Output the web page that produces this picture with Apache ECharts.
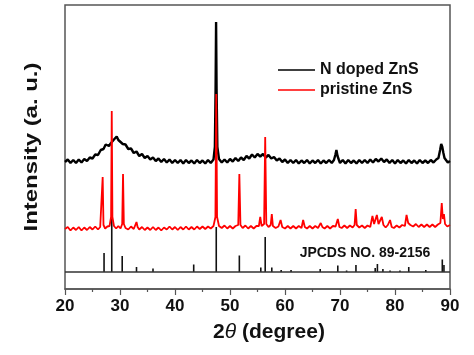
<!DOCTYPE html>
<html>
<head>
<meta charset="utf-8">
<script src="https://cdn.jsdelivr.net/npm/echarts@6/dist/echarts.min.js"></script>
<style>
html,body{margin:0;padding:0;background:#fff;}
#c{width:474px;height:355px;}
</style>
</head>
<body>
<div id="c"></div>
<script>
// x-axis ticks (2θ, degree)
var xTicks = [20, 30, 40, 50, 60, 70, 80, 90];

// N doped ZnS (offset trace), [2θ, intensity a.u.]
var nDoped = [
[20,127],[20.5,129.5],[21,126],[21.5,129],[22,126],[22.5,129.5],[23,126.5],[23.5,130],[24,128],[24.5,131.5],
[25,130.5],[25.5,134.5],[26,134],[26.5,139],[27,140],[27.4,144.5],[27.7,146],[28,143],[28.3,145.5],[28.6,144],
[28.9,149.5],[29.2,150],[29.4,152.5],[29.7,149],[30,150],[30.5,145],[31,144.5],[31.5,140],[32,140.5],[32.5,136],
[33,137.5],[33.5,133],[34,135],[34.5,131],[35,133],[35.5,129.5],[36,131.5],[36.5,128],[37,130.5],[37.5,127],
[38,130],[38.5,126.5],[39,129.5],[39.5,126],[40,129],[40.5,126],[41,129],[41.5,125.5],[42,129],[42.5,126],
[43,128.5],[43.5,125.5],[44,129],[44.5,126],[45,128.5],[45.5,125.5],[46,129],[46.5,126],[47,129.5],[47.25,142],
[47.38,200],[47.47,267],[47.56,200],[47.7,142],[48,130],[48.5,126.5],[49,129.5],[49.5,126.5],[50,130],[50.5,127.5],
[51,131],[51.5,128],[52,131.5],[52.5,129],[53,133],[53.5,130.5],[54,134.5],[54.5,131.5],[55,135],[55.5,132.5],
[56,135],[56.5,131.5],[57,134],[57.5,130.5],[58,132],[58.5,128.5],[59,130.5],[59.5,127],[60,129.5],[60.5,126],
[61,129],[61.5,126],[62,129],[62.5,125.5],[63,128.5],[63.5,126],[64,129],[64.5,125.5],[65,128.5],[65.5,126],
[66,129],[66.5,125.5],[67,128.5],[67.5,126],[68,129],[68.5,126],[68.9,129],[69.15,134],[69.35,139],[69.55,133],
[69.8,129],[70,126],[70.5,129],[71,125.5],[71.5,129],[72,126],[72.5,128.5],[73,125.5],[73.5,129],[74,126],
[74.5,129],[75,126],[75.5,129.5],[76,126.5],[76.5,130],[77,127.5],[77.5,130.5],[78,127],[78.5,129.5],[79,126],
[79.5,129],[80,125.5],[80.5,129],[81,126],[81.5,128.5],[82,125.5],[82.5,129],[83,126],[83.5,128.5],[84,125.5],
[84.5,129],[85,126],[85.5,128.5],[86,126],[86.5,129],[87,126.5],[87.5,129.5],[87.9,131],[88.2,139],[88.4,145],
[88.6,142],[88.8,136],[89,131],[89.3,129],[89.6,126.5],[90,128]
];

// pristine ZnS (offset trace), [2θ, intensity a.u.]
var pristine = [
[20,60],[20.5,62],[21,58.5],[21.5,61.5],[22,59],[22.5,62],[23,58.5],[23.5,61.5],[24,59],[24.5,62],
[25,59.5],[25.5,62.5],[26,59.5],[26.4,62],[26.7,64],[26.85,112],[27.0,64],[27.3,60.5],[27.7,62.5],[28.1,63],
[28.38,72],[28.5,178],[28.62,72],[28.9,63],[29.3,60.5],[29.7,63],[30.1,60.5],[30.4,65],[30.55,115],[30.7,65],
[31,61],[31.5,59.5],[32,62.5],[32.5,60],[32.8,62],[33,67],[33.2,62],[33.5,59.5],[34,62],[34.5,59],
[35,61.5],[35.5,59],[36,62],[36.5,59],[37,61.5],[37.5,58.5],[38,61.5],[38.5,59.5],[39,62.5],[39.5,59.5],
[40,62],[40.5,59],[41,62],[41.5,59.5],[42,62.5],[42.5,59.5],[43,62],[43.5,59.5],[44,62.5],[44.5,60],
[45,62.5],[45.5,60],[46,62.5],[46.5,60.5],[47,63],[47.35,72],[47.5,195],[47.65,72],[48,63],[48.5,61],
[49,63.5],[49.5,60.5],[50,63],[50.5,60.5],[51,63],[51.5,64],[51.7,115],[51.9,64],[52.3,61],[52.8,63.5],
[53.3,60.5],[53.8,63],[54.3,60.5],[54.8,63],[55.25,63],[55.5,72],[55.75,63],[56.2,65],[56.4,152],[56.6,65],
[57,62],[57.4,64],[57.6,75],[57.8,63],[58.3,61],[58.8,62.5],[59.2,69],[59.5,62],[60,60.5],[60.5,63],
[61,60.5],[61.5,63],[62,60.5],[62.5,63],[63,61],[63.3,69],[63.6,62],[64,60.5],[64.5,63],[65,60.5],
[65.5,63],[66,61],[66.5,66],[66.8,62],[67.2,60.5],[67.7,63],[68.2,60.5],[68.7,63],[69.2,62.5],[69.6,70],
[69.9,62],[70.3,61],[70.8,63.5],[71.3,61],[71.8,63.5],[72.3,61.5],[72.65,64],[72.85,80],[73.05,64],[73.5,61.5],
[74,63.5],[74.5,61],[75,63.5],[75.5,62],[75.9,73],[76.2,65],[76.7,74],[77,65],[77.3,66],[77.6,72],
[77.9,64],[78.3,61.5],[78.7,64],[79.1,69],[79.4,62],[79.8,61],[80.3,63.5],[80.8,61.5],[81.3,64],[81.8,63],
[82.1,74],[82.4,66],[82.8,64],[83.3,62.5],[83.8,65],[84.3,62],[84.8,64.5],[85.3,62],[85.8,64.5],[86.3,62],
[86.8,64.5],[87.3,62],[87.8,64.5],[88.25,66],[88.5,86],[88.7,70],[88.9,75],[89.1,65],[89.5,62.5],[90,64]
];

// JPCDS NO. 89-2156 reference lines: [2θ, relative height]
var refBase = 17;
var refLines = [
[27.1,19],[28.5,55],[30.4,16],[33.0,5],[36.0,3.5],[43.4,7.5],[47.5,45],[51.7,16.5],[55.6,4.5],[56.4,35],
[57.6,4.5],[59.3,2],[61.1,2],[66.4,3],[69.6,6.5],[71.2,1.5],[72.9,7],[76.4,4],[76.8,8],[77.8,3],
[79.1,1.5],[80.9,1.5],[82.5,5],[85.6,2],[88.6,12.5],[88.9,7]
];
var refBaseline = [[20, refBase], [90, refBase]];

var seriesNames = ['N doped ZnS', 'pristine ZnS'];
var refLabel = 'JPCDS NO. 89-2156';

var FONT = '"Liberation Sans", Arial, Helvetica, sans-serif';
var chart = echarts.init(document.getElementById('c'), null, {renderer: 'canvas'});
chart.setOption({
  animation: false,
  backgroundColor: '#fff',
  grid: {left: 65, right: 24, top: 5, bottom: 66, show: true, borderColor: '#555', borderWidth: 1.5, containLabel: false},
  xAxis: {
    type: 'value', min: xTicks[0], max: xTicks[xTicks.length - 1], interval: 10,
    axisLine: {show: true, lineStyle: {color: '#555', width: 1.5}},
    axisTick: {show: true, inside: false, length: 6, lineStyle: {color: '#555', width: 1.2}},
    minorTick: {show: true, splitNumber: 2, length: 3, lineStyle: {color: '#555', width: 1.2}},
    splitLine: {show: false},
    axisLabel: {color: '#111', fontSize: 17, fontWeight: 'bold', fontFamily: FONT, margin: 9}
  },
  yAxis: {
    type: 'value', min: 0, max: 284,
    axisLine: {show: false}, axisTick: {show: false}, axisLabel: {show: false}, splitLine: {show: false}
  },
  legend: {
    data: seriesNames,
    orient: 'vertical', left: 273, top: 57, itemGap: 4,
    icon: 'rect', itemWidth: 37, itemHeight: 1.6,
    textStyle: {color: '#111', fontSize: 16, fontWeight: 'bold', fontFamily: FONT, padding: [0, 0, 0, 0]},
    itemStyle: {borderWidth: 0}
  },
  graphic: [
    {type: 'text', x: 32, y: 147, rotation: Math.PI / 2, scaleX: 1.26,
     style: {text: 'Intensity (a. u.)', fill: '#111', font: 'bold 19px ' + FONT, align: 'center', verticalAlign: 'middle'}},
    {type: 'text', x: 269, y: 332,
     style: {text: '{n|2}{t|θ}{n| (degree)}', align: 'center', verticalAlign: 'middle',
       rich: {
         n: {fontSize: 21, fontWeight: 'bold', fontFamily: FONT, fill: '#111'},
         t: {fontSize: 21, fontStyle: 'italic', fontFamily: FONT, fill: '#111'}
       }}},
    {type: 'text', x: 365, y: 253,
     style: {text: refLabel, fill: '#111', font: 'bold 14px ' + FONT, align: 'center', verticalAlign: 'middle'}}
  ],
  series: [
    {
      type: 'custom', name: 'ref', data: refLines, clip: true,
      encode: {x: 0, y: 1},
      renderItem: function (params, api) {
        var x = api.value(0), h = api.value(1);
        var p0 = api.coord([x, refBase]);
        var p1 = api.coord([x, refBase + h]);
        return {type: 'line', shape: {x1: p0[0], y1: p0[1], x2: p1[0], y2: p1[1]},
                style: {stroke: '#111', lineWidth: 1.6}};
      }
    },
    {type: 'line', name: 'refBaseline', data: refBaseline, symbol: 'none', silent: true,
     lineStyle: {color: '#333', width: 1.5}},
    {type: 'line', name: seriesNames[0], data: nDoped, symbol: 'none',
     lineStyle: {color: '#000', width: 2.4}, itemStyle: {color: '#000'}},
    {type: 'line', name: seriesNames[1], data: pristine, symbol: 'none',
     lineStyle: {color: '#ff0000', width: 1.8}, itemStyle: {color: '#ff0000'}}
  ]
});
</script>
</body>
</html>
